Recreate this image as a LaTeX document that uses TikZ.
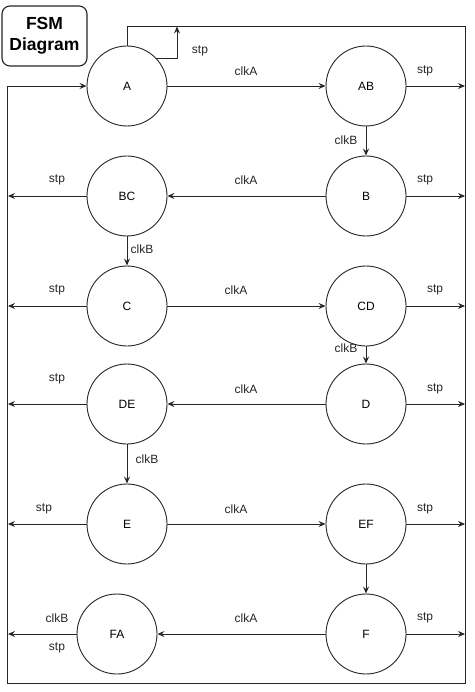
\documentclass[tikz,border=0pt]{standalone}
\usepackage{fontspec}
\setmainfont{Liberation Sans}
\usetikzlibrary{arrows.meta}
\begin{document}
\begin{tikzpicture}[x=1pt,y=-1pt,
  state/.style={circle,draw=black!85,line width=0.9pt,minimum size=80pt,inner sep=0pt,font=\fontsize{12}{14}\selectfont},
  edge/.style={draw=black!85,line width=0.9pt,-{Stealth[length=7pt,width=6pt,inset=2.5pt]}},
  wire/.style={draw=black!85,line width=0.9pt},
  lbl/.style={font=\fontsize{12}{14}\selectfont,inner sep=0pt,text=black!85},
  title/.style={draw=black!85,line width=1.1pt,rounded corners=8pt,minimum width=85pt,minimum height=60pt,align=center,font=\fontsize{17.5}{21}\selectfont\bfseries,inner sep=0pt}]
\useasboundingbox (0,0) rectangle (474,692);
\node[title] (T) at (44.5,36) {FSM\\Diagram};
\node[state] (A) at (127,86) {A};
\node[state] (AB) at (366,86) {AB};
\node[state] (BC) at (127,196) {BC};
\node[state] (B) at (366,196) {B};
\node[state] (C) at (127,306) {C};
\node[state] (CD) at (366,306) {CD};
\node[state] (DE) at (127,404) {DE};
\node[state] (D) at (366,404) {D};
\node[state] (E) at (127,524) {E};
\node[state] (EF) at (366,524) {EF};
\node[state] (FA) at (117,634) {FA};
\node[state] (F) at (366,634) {F};
% free ends
\coordinate (rAB) at (465,86);
\coordinate (rB) at (465,196);
\coordinate (rCD) at (465,306);
\coordinate (rD) at (465,404);
\coordinate (rEF) at (465,524);
\coordinate (rF) at (465,634);
\coordinate (lBC) at (8,196);
\coordinate (lC) at (8,306);
\coordinate (lDE) at (8,404);
\coordinate (lE) at (8,524);
\coordinate (lFA) at (8,634);
\coordinate (tA) at (127,26);
\coordinate (tR) at (465,26);
\coordinate (bR) at (465,683);
\coordinate (bL) at (7,683);
\coordinate (lA) at (7,86);
\coordinate (sA1) at (177,58);
\coordinate (sA2) at (177,26.5);
% frame loop
\draw[wire] (A.north) -- (tA) -- (tR) -- (bR) -- (bL) -- (lA);
\draw[edge] (lA) -- (A.west);
% self loop stp
\draw[edge] (A.45 |- sA1) -- (sA1) -- (sA2);
\node[lbl] (s0) at (200,51) {stp};
% row 1
\draw[edge] (A) -- (AB);
\node[lbl] (a1) at (246,71) {clkA};
\draw[edge] (AB) -- (rAB);
\node[lbl] (s1) at (425,71) {stp};
\draw[edge] (AB) -- (B);
\node[lbl] (b1) at (346,140) {clkB};
% row 2
\draw[edge] (B) -- (BC);
\node[lbl] (a2) at (246,180) {clkA};
\draw[edge] (B) -- (rB);
\node[lbl] (s2) at (425,180) {stp};
\draw[edge] (BC) -- (lBC);
\node[lbl] (s3) at (57,180) {stp};
\draw[edge] (BC) -- (C);
\node[lbl] (b2) at (142,249) {clkB};
% row 3
\draw[edge] (C) -- (lC);
\node[lbl] (s4) at (57,290) {stp};
\draw[edge] (C) -- (CD);
\node[lbl] (a3) at (236,290) {clkA};
\draw[edge] (CD) -- (rCD);
\node[lbl] (s5) at (435,290) {stp};
\draw[edge] (CD) -- (D);
\node[lbl] (b3) at (346,348) {clkB};
% row 4
\draw[edge] (DE) -- (lDE);
\node[lbl] (s6) at (57,379) {stp};
\draw[edge] (D) -- (DE);
\node[lbl] (a4) at (246,389) {clkA};
\draw[edge] (D) -- (rD);
\node[lbl] (s7) at (435,389) {stp};
\draw[edge] (DE) -- (E);
\node[lbl] (b4) at (147,459) {clkB};
% row 5
\draw[edge] (E) -- (lE);
\node[lbl] (s8) at (44,509) {stp};
\draw[edge] (E) -- (EF);
\node[lbl] (a5) at (236,509) {clkA};
\draw[edge] (EF) -- (rEF);
\node[lbl] (s9) at (425,509) {stp};
\draw[edge] (EF) -- (F);
% row 6
\draw[edge] (FA) -- (lFA);
\node[lbl] (b5) at (57,618) {clkB};
\node[lbl] (s10) at (57,648) {stp};
\draw[edge] (F) -- (FA);
\node[lbl] (a6) at (246,618) {clkA};
\draw[edge] (F) -- (rF);
\node[lbl] (s11) at (425,618) {stp};
\end{tikzpicture}
\end{document}
